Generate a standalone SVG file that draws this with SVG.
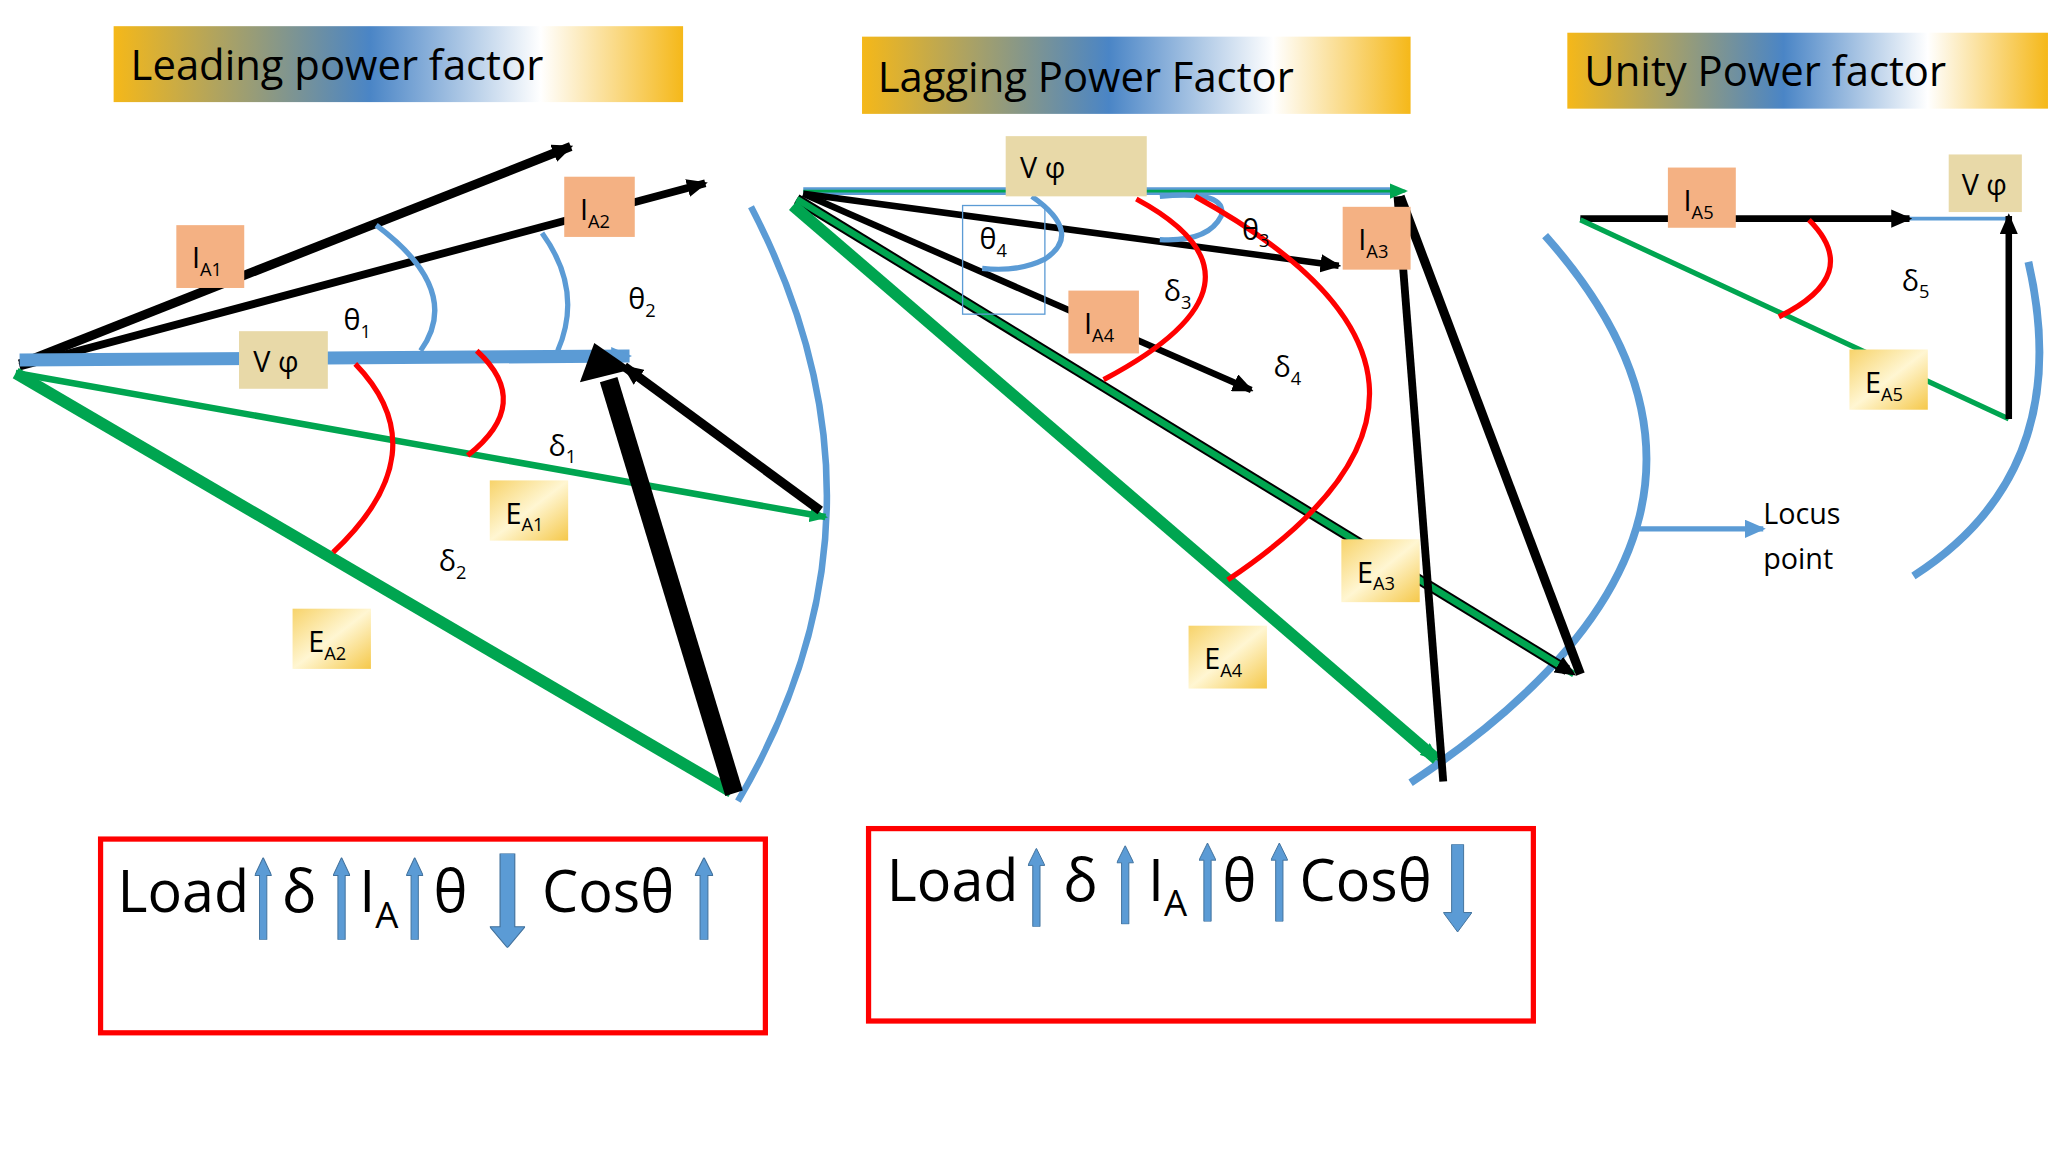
<svg xmlns="http://www.w3.org/2000/svg" width="2048" height="1152" viewBox="0 0 2048 1152">
<defs>
<linearGradient id="tg" x1="0" x2="1" y1="0" y2="0"><stop offset="0" stop-color="#f5b819"/><stop offset="0.45" stop-color="#4a85c6"/><stop offset="0.75" stop-color="#ffffff"/><stop offset="1" stop-color="#f5b819"/></linearGradient>
<linearGradient id="yb" x1="0" x2="1" y1="0" y2="1"><stop offset="0" stop-color="#f7d36a"/><stop offset="0.5" stop-color="#fff6d2"/><stop offset="1" stop-color="#f5c84a"/></linearGradient>
<marker id="ab" markerWidth="16" markerHeight="14" refX="14" refY="7" orient="auto" markerUnits="userSpaceOnUse"><path d="M0,0 L16,7 L0,14 Z" fill="#000"/></marker>
<marker id="abl" markerWidth="16" markerHeight="14" refX="14" refY="7" orient="auto" markerUnits="userSpaceOnUse"><path d="M0,0 L16,7 L0,14 Z" fill="#5b9bd5"/></marker>
<marker id="ag" markerWidth="14" markerHeight="12" refX="12" refY="6" orient="auto" markerUnits="userSpaceOnUse"><path d="M0,0 L14,6 L0,12 Z" fill="#00a550"/></marker>
<symbol id="up" viewBox="0 0 14 64" preserveAspectRatio="none"><path d="M4,64 V14 H0 L7,0 L14,14 H10 V64 Z" fill="#5b9bd5" stroke="#41719c" stroke-width="0.8"/></symbol>
<symbol id="dn" viewBox="0 0 24 72" preserveAspectRatio="none"><path d="M7,0 V56 H0 L12,72 L24,56 H17 V0 Z" fill="#5b9bd5" stroke="#41719c" stroke-width="0.8"/></symbol>
</defs>
<style>
text{font-family:"Open Sans","Liberation Sans",sans-serif;fill:#000}
.t{font-size:32px}
.l{font-size:22px}
.b{font-size:44px}
.or{fill:#f4b183}
.yl{fill:url(#yb)}
.vp{fill:#e8d9a8}
.blk{stroke:#000;fill:none}
.blu{stroke:#5b9bd5;fill:none}
.grn{stroke:#00a550;fill:none}
.red{stroke:#ff0000;fill:none;stroke-width:4}
</style>
<rect width="2048" height="1152" fill="#fff"/>
<g transform="scale(1.3061 1.309)">
<g id="titles">
<rect x="87" y="20" width="436" height="58" fill="url(#tg)"/><text class="t" x="100" y="61">Leading power factor</text>
<rect x="660" y="28" width="420" height="59" fill="url(#tg)"/><text class="t" x="672" y="70">Lagging Power Factor</text>
<rect x="1200" y="25" width="368" height="58" fill="url(#tg)"/><text class="t" x="1213" y="66">Unity Power factor</text>
</g>
<g id="connectors">
<path class="blu" d="M575,158 Q696,390 565,612" stroke-width="5"/>
<line class="blk" x1="15" y1="278" x2="437" y2="112" stroke-width="7" marker-end="url(#ab)"/>
<line class="blk" x1="15" y1="280" x2="540" y2="140" stroke-width="6" marker-end="url(#ab)"/>
<line class="blu" x1="15" y1="275" x2="482" y2="272" stroke-width="10" marker-end="url(#abl)"/>
<line class="grn" x1="12" y1="285" x2="632" y2="395" stroke-width="5" marker-end="url(#ag)"/>
<line class="grn" x1="12" y1="285" x2="560" y2="605" stroke-width="9"/>
<line class="blk" x1="562" y1="606" x2="466" y2="290" stroke-width="14"/>
<polygon points="455,262 444,292 484,282" fill="#000"/>
<line class="blk" x1="628" y1="390" x2="478" y2="280" stroke-width="7" marker-end="url(#ab)"/>
<path class="blu" d="M288,172 Q355,222 322,268" stroke-width="4"/>
<path class="blu" d="M415,178 Q447,222 427,268" stroke-width="4"/>
<path class="red" d="M365,268 Q409,308 358,348"/>
<path class="red" d="M272,278 Q337,345 255,422"/>
<path class="blu" d="M1183,180 Q1379,400 1080,598" stroke-width="6"/>
<line class="blu" x1="615" y1="146" x2="1070" y2="146" stroke-width="6"/>
<line class="grn" x1="615" y1="146" x2="1076" y2="146" stroke-width="2" marker-end="url(#ag)"/>
<line class="blk" x1="615" y1="148" x2="1025" y2="203" stroke-width="5" marker-end="url(#ab)"/>
<line class="blk" x1="615" y1="148" x2="958" y2="298" stroke-width="5" marker-end="url(#ab)"/>
<line x1="610" y1="152" x2="1200" y2="512" stroke="#000" stroke-width="8"/>
<line class="grn" x1="610" y1="152" x2="1205" y2="515" stroke-width="5" marker-end="url(#ab)"/>
<line class="grn" x1="607" y1="157" x2="1100" y2="580" stroke-width="9" marker-end="url(#ag)"/>
<line class="blk" x1="1070" y1="150" x2="1105" y2="597" stroke-width="6"/>
<line class="blk" x1="1072" y1="150" x2="1210" y2="515" stroke-width="7"/>
<path class="blu" d="M888,150 Q940,145 935,165 Q925,185 888,183" stroke-width="4"/>
<path class="blu" d="M790,150 Q830,178 800,198 Q780,208 752,205" stroke-width="4"/>
<rect x="737" y="157" width="63" height="83" fill="none" stroke="#5b9bd5" stroke-width="1"/>
<path class="red" d="M870,152 Q987,215 845,290"/>
<path class="red" d="M915,150 Q1169,290 940,443"/>
<line class="blu" x1="1255" y1="404" x2="1350" y2="404" stroke-width="4" marker-end="url(#abl)"/>
<line class="blu" x1="1210" y1="167" x2="1540" y2="167" stroke-width="3"/>
<line class="blk" x1="1210" y1="167" x2="1462" y2="167" stroke-width="5" marker-end="url(#ab)"/>
<line class="grn" x1="1210" y1="168" x2="1538" y2="320" stroke-width="4"/>
<line class="blk" x1="1538" y1="320" x2="1538" y2="165" stroke-width="5" marker-end="url(#ab)"/>
<path class="red" d="M1385,168 Q1427,210 1362,242"/>
<path class="blu" d="M1553,200 Q1590,360 1465,440" stroke-width="6"/>
</g>
<g id="labels">
<g id="ia1"><rect class="or" x="135" y="172" width="52" height="48"/><text class="l" x="147" y="205">I<tspan font-size="14" dy="6">A1</tspan></text></g>
<g id="ia2"><rect class="or" x="432" y="135" width="54" height="46"/><text class="l" x="444" y="168">I<tspan font-size="14" dy="6">A2</tspan></text></g>
<g id="v1"><rect class="vp" x="183" y="253" width="68" height="44"/><text class="l" x="194" y="284">V φ</text></g>
<text class="l" x="263" y="252">θ<tspan font-size="14" dy="6">1</tspan></text>
<text class="l" x="481" y="236">θ<tspan font-size="14" dy="6">2</tspan></text>
<text class="l" x="420" y="348">δ<tspan font-size="14" dy="6">1</tspan></text>
<text class="l" x="336" y="436">δ<tspan font-size="14" dy="6">2</tspan></text>
<g id="ea1"><rect class="yl" x="375" y="367" width="60" height="46"/><text class="l" x="387" y="400">E<tspan font-size="14" dy="6">A1</tspan></text></g>
<g id="ea2"><rect class="yl" x="224" y="465" width="60" height="46"/><text class="l" x="236" y="498">E<tspan font-size="14" dy="6">A2</tspan></text></g>
<g id="v2"><rect class="vp" x="770" y="104" width="108" height="46"/><text class="l" x="781" y="136">V φ</text></g>
<text class="l" x="951" y="183">θ<tspan font-size="14" dy="6">3</tspan></text>
<text class="l" x="750" y="190">θ<tspan font-size="14" dy="6">4</tspan></text>
<text class="l" x="891" y="230">δ<tspan font-size="14" dy="6">3</tspan></text>
<text class="l" x="975" y="288">δ<tspan font-size="14" dy="6">4</tspan></text>
<g id="ia3"><rect class="or" x="1028" y="158" width="52" height="48"/><text class="l" x="1040" y="191">I<tspan font-size="14" dy="6">A3</tspan></text></g>
<g id="ia4"><rect class="or" x="818" y="222" width="54" height="48"/><text class="l" x="830" y="255">I<tspan font-size="14" dy="6">A4</tspan></text></g>
<g id="ea3"><rect class="yl" x="1027" y="412" width="60" height="48"/><text class="l" x="1039" y="445">E<tspan font-size="14" dy="6">A3</tspan></text></g>
<g id="ea4"><rect class="yl" x="910" y="478" width="60" height="48"/><text class="l" x="922" y="511">E<tspan font-size="14" dy="6">A4</tspan></text></g>
<text class="l" x="1350" y="400">Locus</text><text class="l" x="1350" y="435">point</text>
<g id="ia5"><rect class="or" x="1277" y="128" width="52" height="46"/><text class="l" x="1289" y="161">I<tspan font-size="14" dy="6">A5</tspan></text></g>
<g id="v3"><rect class="vp" x="1492" y="118" width="56" height="44"/><text class="l" x="1502" y="149">V φ</text></g>
<text class="l" x="1456" y="222">δ<tspan font-size="14" dy="6">5</tspan></text>
<g id="ea5"><rect class="yl" x="1416" y="267" width="60" height="46"/><text class="l" x="1428" y="300">E<tspan font-size="14" dy="6">A5</tspan></text></g>
</g>
<g id="box1">
<rect x="77" y="641" width="509" height="148" fill="none" stroke="#ff0000" stroke-width="4"/>
<text class="b" x="90" y="697">Load</text><use href="#up" x="195" y="655" width="13" height="63"/>
<text class="b" x="216" y="697">δ</text><use href="#up" x="255" y="655" width="13" height="63"/>
<text class="b" x="275" y="697">I<tspan font-size="28" dy="12">A</tspan></text><use href="#up" x="311" y="655" width="13" height="63"/>
<text class="b" x="332" y="697">θ</text><use href="#dn" x="375" y="652" width="27" height="72"/>
<text class="b" x="415" y="697">Cosθ</text><use href="#up" x="532" y="655" width="14" height="63"/>
</g>
<g id="box2">
<rect x="665" y="633" width="509" height="147" fill="none" stroke="#ff0000" stroke-width="4"/>
<text class="b" x="679" y="688">Load</text><use href="#up" x="787" y="648" width="13" height="60"/>
<text class="b" x="814" y="688">δ</text><use href="#up" x="855" y="646" width="13" height="60"/>
<text class="b" x="879" y="688">I<tspan font-size="28" dy="12">A</tspan></text><use href="#up" x="918" y="644" width="13" height="60"/>
<text class="b" x="936" y="688">θ</text><use href="#up" x="973" y="644" width="13" height="60"/>
<text class="b" x="995" y="688">Cosθ</text><use href="#dn" x="1105" y="645" width="22" height="67"/>
</g>
</g>
</svg>
